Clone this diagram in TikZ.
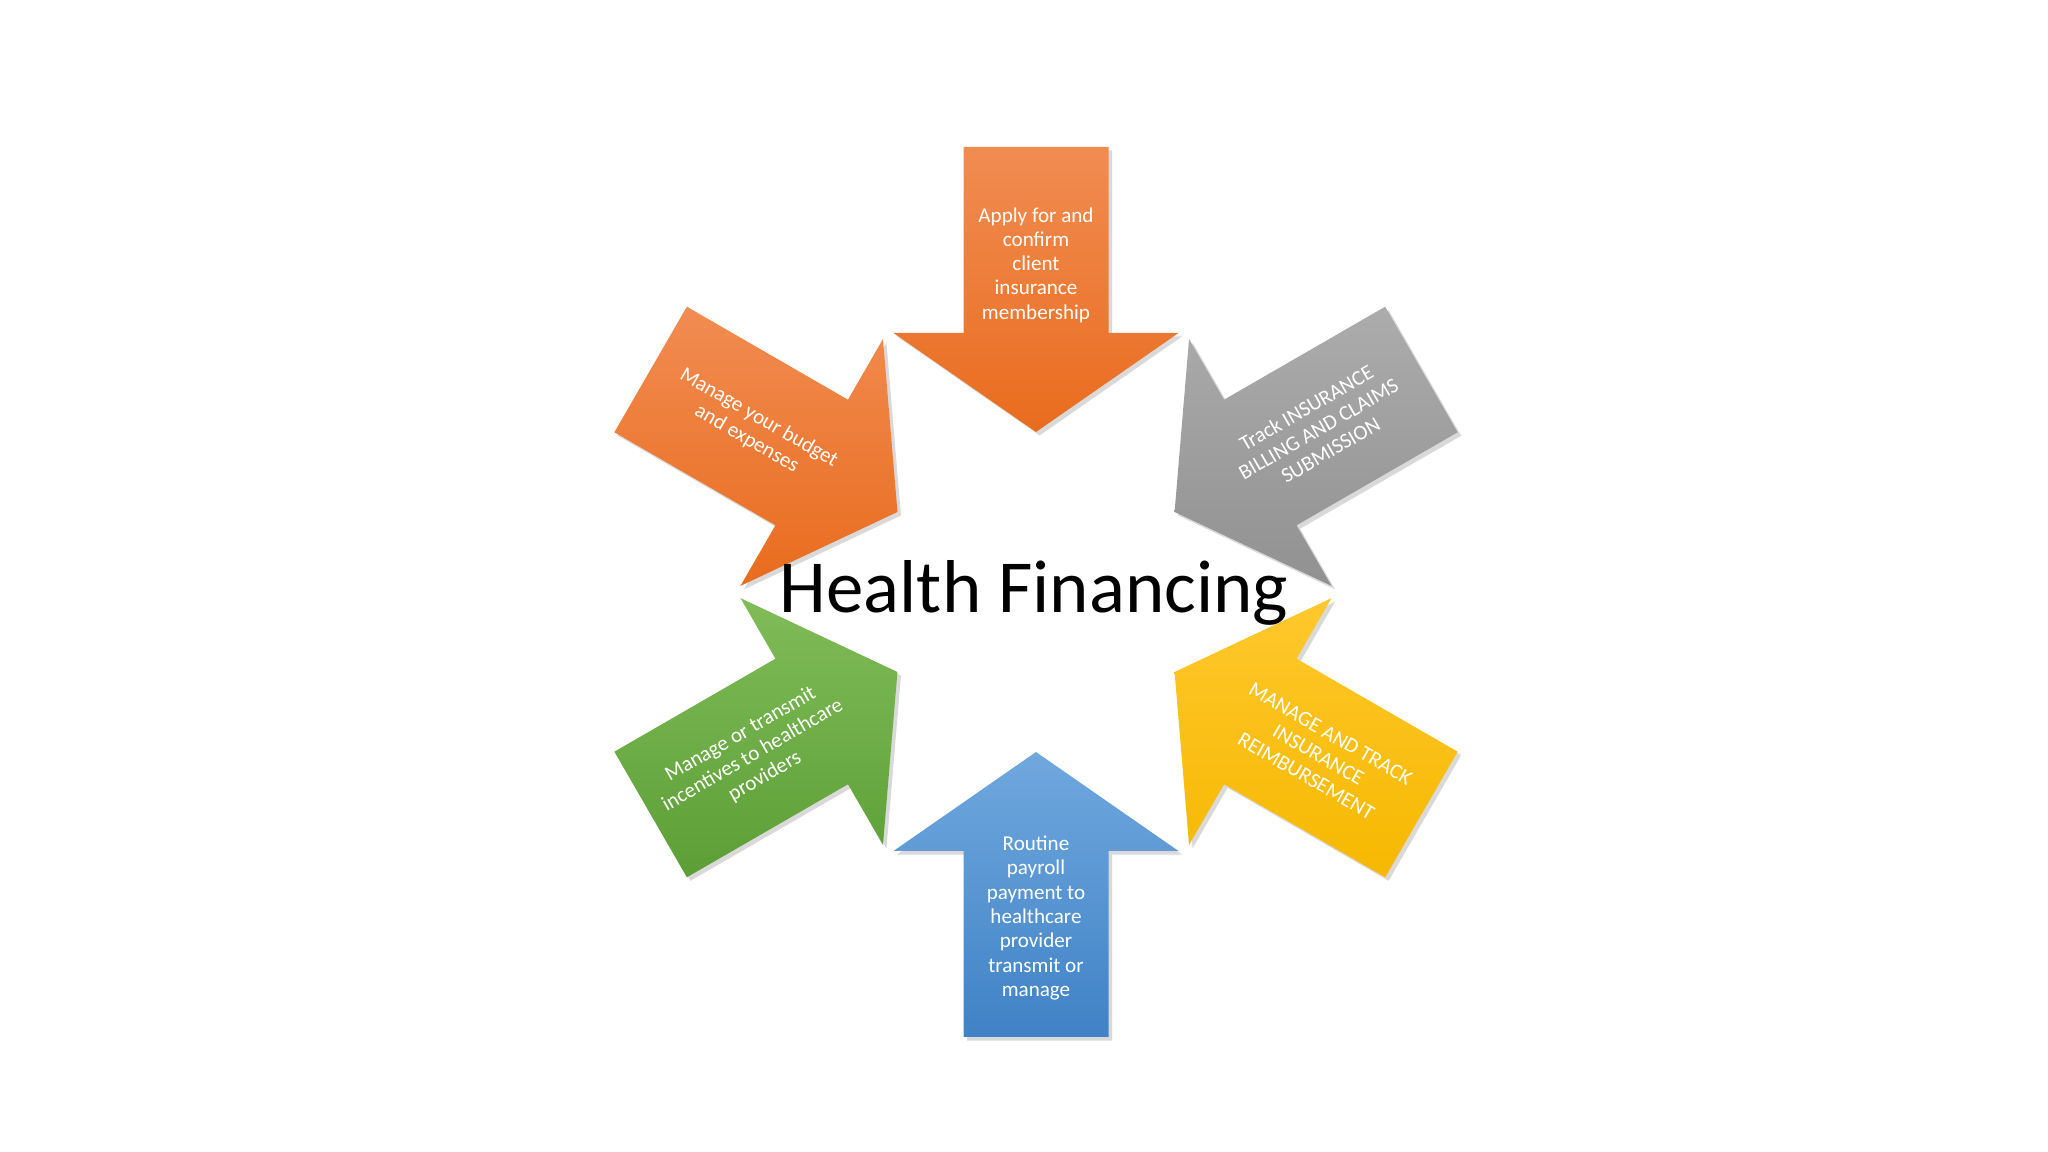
\documentclass[tikz,border=0pt]{standalone}
\usepackage{fontspec}
\setmainfont{Carlito}
\usetikzlibrary{calc,shadows}

\definecolor{orangeA}{RGB}{241,140,82}
\definecolor{orangeB}{RGB}{233,108,30}
\definecolor{grayA}{RGB}{172,172,172}
\definecolor{grayB}{RGB}{145,145,145}
\definecolor{yellowA}{RGB}{255,200,45}
\definecolor{yellowB}{RGB}{246,184,0}
\definecolor{blueA}{RGB}{112,168,222}
\definecolor{blueB}{RGB}{64,130,198}
\definecolor{greenA}{RGB}{128,188,88}
\definecolor{greenB}{RGB}{92,158,54}

\tikzset{
  blockarrow/.style={drop shadow={shadow xshift=1pt,shadow yshift=-1pt,opacity=0.15,fill=black}},
  lbl/.style={text=white, align=center, inner sep=0pt, font=\fontsize{6}{6.9}\selectfont},
  ttl/.style={anchor=base, inner sep=0pt, font=\fontsize{21.3}{25}\selectfont}
}

\begin{document}
\begin{tikzpicture}[x=0.01cm,y=0.01cm]
\useasboundingbox (0,0) rectangle (2048,1152);
\coordinate (c) at (1036,560);

\foreach \a/\ct/\cb in {90/orangeA/orangeB, 150/orangeA/orangeB, 30/grayA/grayB, -30/yellowA/yellowB, 270/blueA/blueB, 210/greenA/greenB}
  \path [blockarrow, top color=\ct, bottom color=\cb]
    ($(c)+(\a:445)+({\a+90}:72.5)$) -- ($(c)+(\a:259)+({\a+90}:72.5)$)
    -- ($(c)+(\a:259)+({\a+90}:142.5)$) -- ($(c)+(\a:160)$)
    -- ($(c)+(\a:259)+({\a-90}:142.5)$) -- ($(c)+(\a:259)+({\a-90}:72.5)$)
    -- ($(c)+(\a:445)+({\a-90}:72.5)$) -- cycle;

\node (apply) at ($(c)+(90:327)$) [lbl] {Apply for and\\confirm\\client\\insurance\\membership};
\node (budget) at ($(c)+(150:327)$) [lbl, rotate=-30] {Manage your budget\\and expenses};
\node (track) at ($(c)+(30:326)$) [lbl, rotate=30] {Track INSURANCE\\BILLING AND CLAIMS\\SUBMISSION};
\node (reimb) at ($(c)+(-30:326)$) [lbl, rotate=-30] {MANAGE AND TRACK\\INSURANCE\\REIMBURSEMENT};
\node (payroll) at ($(c)+(270:326)$) [lbl] {Routine\\payroll\\payment to\\healthcare\\provider\\transmit or\\manage};
\node (incent) at ($(c)+(210:327)$) [lbl, rotate=30] {Manage or transmit\\incentives to healthcare\\providers};

\node (title) at (1034,539) [ttl] {Health Financing};
\end{tikzpicture}
\end{document}
